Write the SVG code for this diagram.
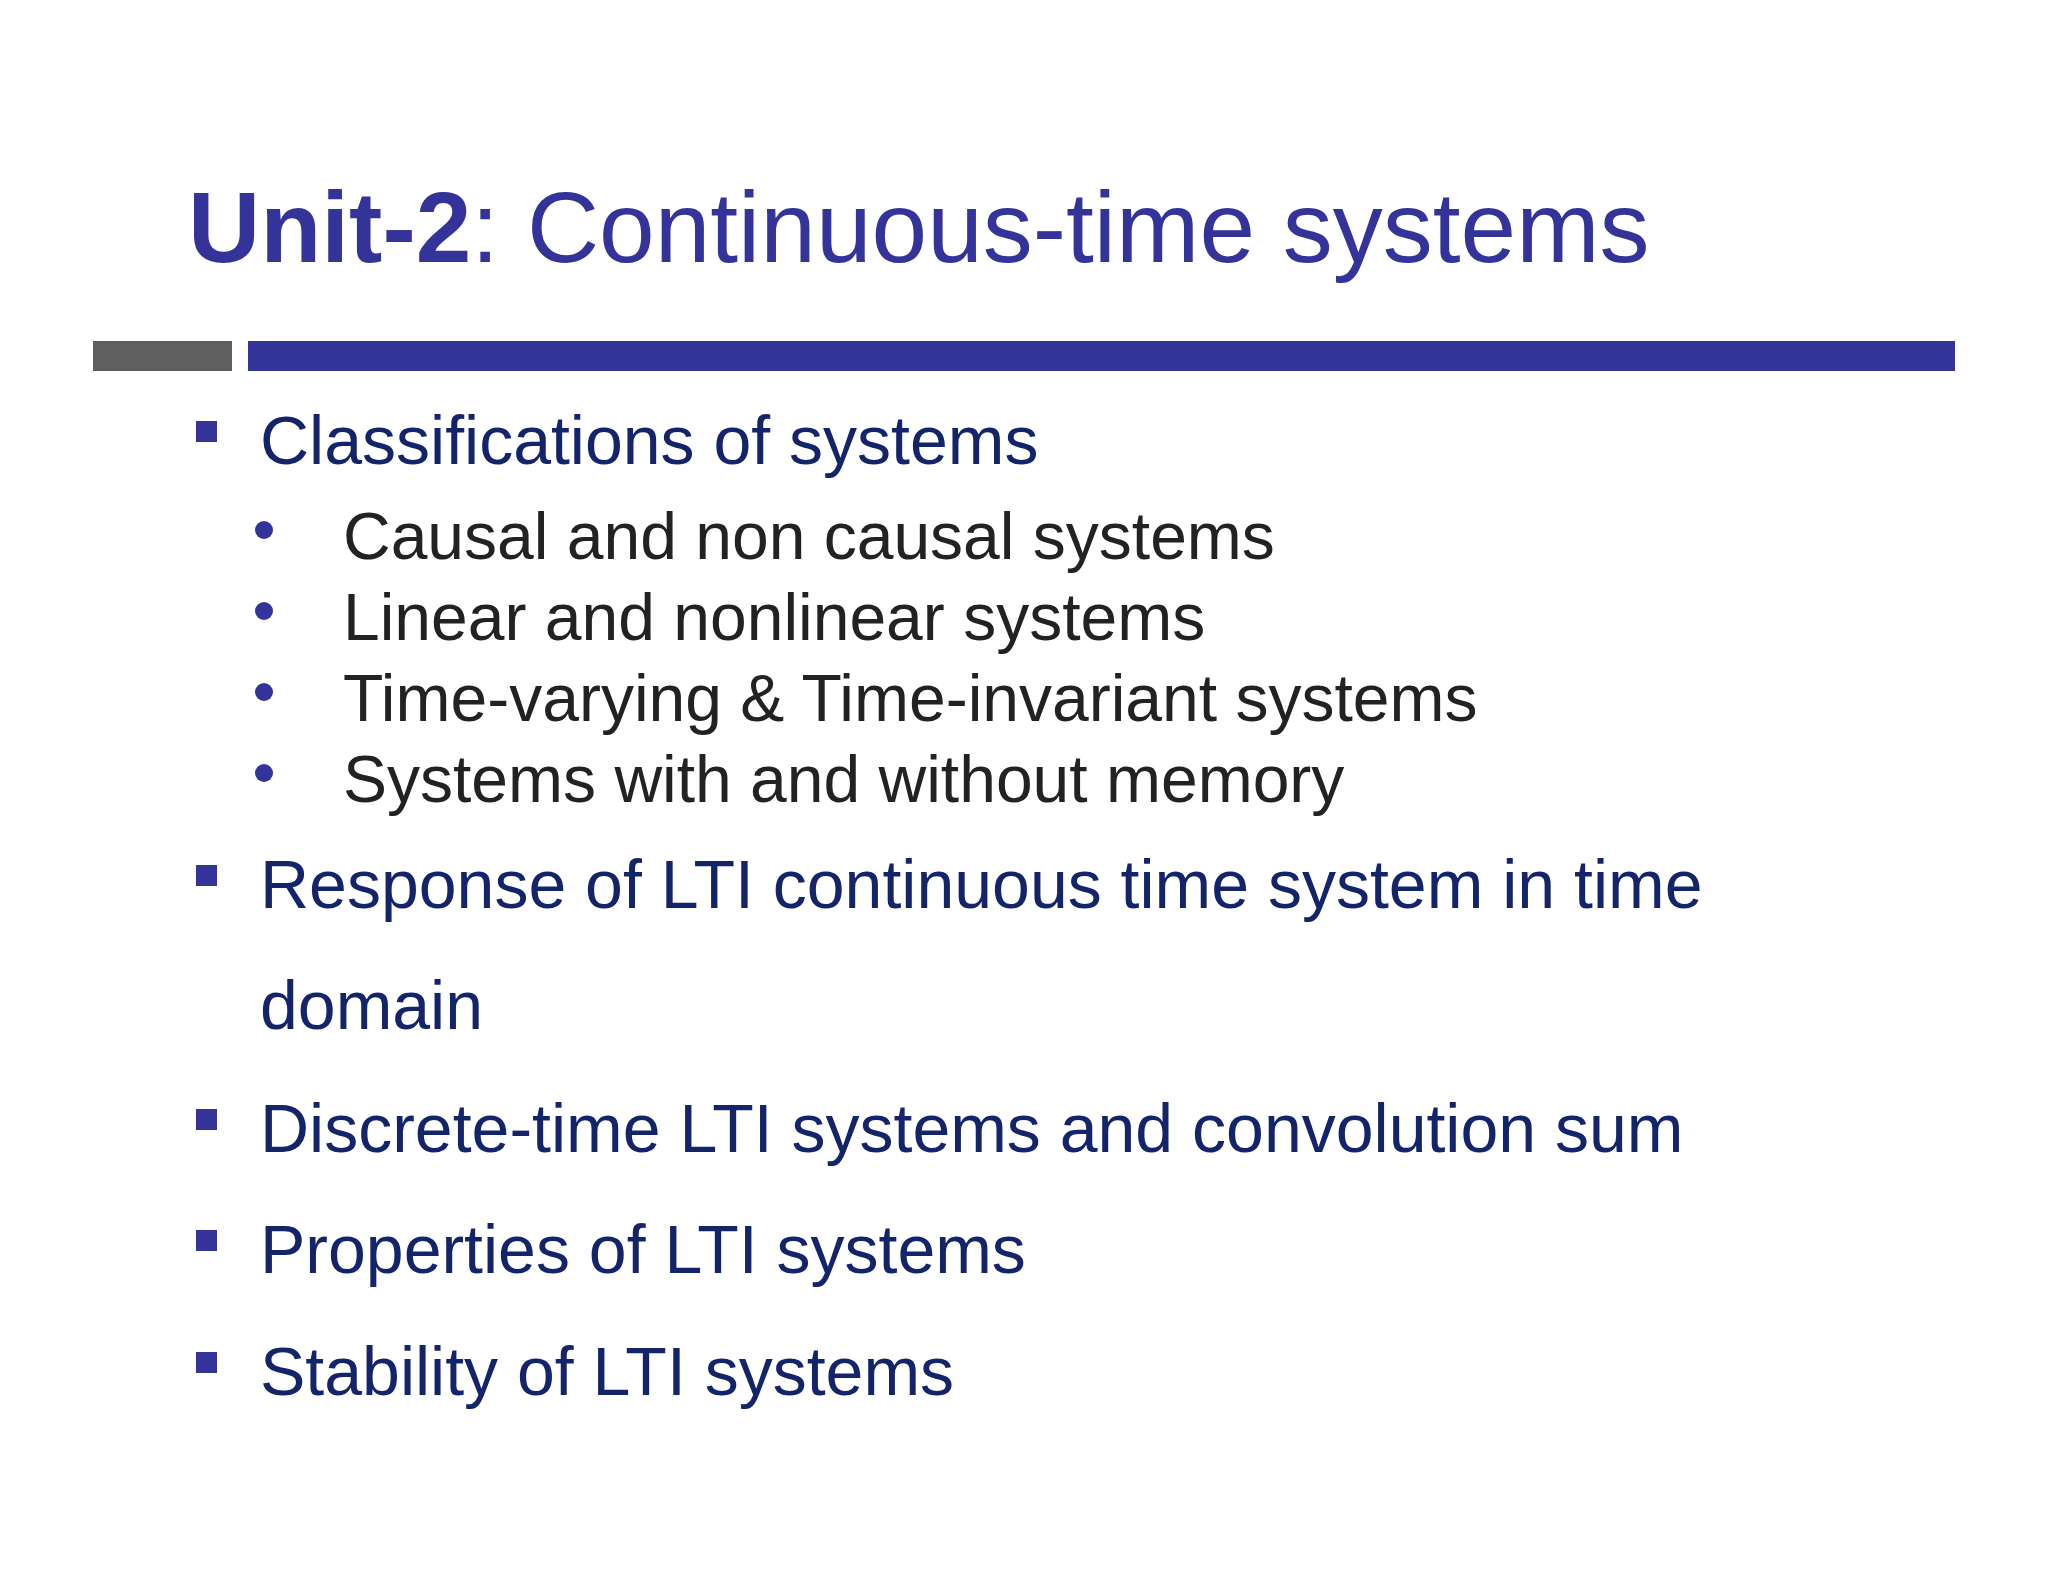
<svg xmlns="http://www.w3.org/2000/svg" width="2048" height="1582" viewBox="0 0 2048 1582">
<style>
.t{font-family:"Liberation Sans",Arial,sans-serif}
.m{font-size:68px;fill:#14246b}
.s{font-size:66px;fill:#222222}
.sq{fill:#333399}
.dot{fill:#333399}
</style>
<rect width="2048" height="1582" fill="#ffffff"/>
<g id="title"><text class="t" x="188" y="262" font-size="100" fill="#333399"><tspan font-weight="bold">Unit-2</tspan>: Continuous-time systems</text></g>
<g id="bars"><rect x="93" y="341" width="139" height="30" fill="#5f5f5f"/><rect x="248" y="341" width="1707" height="30" fill="#333399"/></g>
<g id="b1"><rect class="sq" x="196" y="421" width="21" height="21"/><text class="t m" x="260" y="464">Classifications of systems</text></g>
<g id="s1"><circle class="dot" cx="264" cy="530" r="9"/><text class="t s" x="343" y="559">Causal and non causal systems</text></g>
<g id="s2"><circle class="dot" cx="264" cy="611" r="9"/><text class="t s" x="343" y="640">Linear and nonlinear systems</text></g>
<g id="s3"><circle class="dot" cx="264" cy="692" r="9"/><text class="t s" x="343" y="721">Time-varying &amp; Time-invariant systems</text></g>
<g id="s4"><circle class="dot" cx="264" cy="773" r="9"/><text class="t s" x="343" y="802">Systems with and without memory</text></g>
<g id="b2"><rect class="sq" x="196" y="865" width="21" height="21"/><text class="t m" x="260" y="908">Response of LTI continuous time system in time</text><text class="t m" x="260" y="1029">domain</text></g>
<g id="b3"><rect class="sq" x="196" y="1109" width="21" height="21"/><text class="t m" x="260" y="1152">Discrete-time LTI systems and convolution sum</text></g>
<g id="b4"><rect class="sq" x="196" y="1230" width="21" height="21"/><text class="t m" x="260" y="1273">Properties of LTI systems</text></g>
<g id="b5"><rect class="sq" x="196" y="1352" width="21" height="21"/><text class="t m" x="260" y="1395">Stability of LTI systems</text></g>
<g id="connectors"/>
</svg>
